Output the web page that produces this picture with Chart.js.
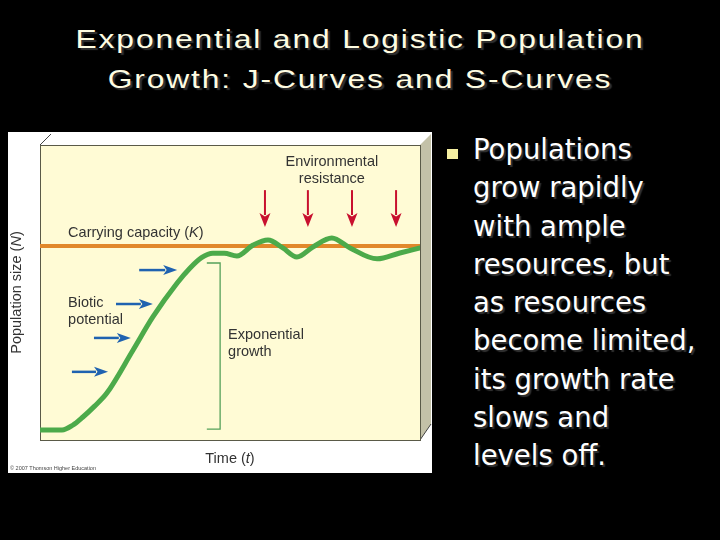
<!DOCTYPE html>
<html>
<head>
<meta charset="utf-8">
<script src="https://cdn.jsdelivr.net/npm/chart.js@4"></script>
<style>
  html, body { margin: 0; padding: 0; background: #000; }
  body { width: 720px; height: 540px; position: relative; overflow: hidden; }
  #title {
    position: absolute; left: 0; top: 19px; width: 720px; text-align: center;
    font-family: "Liberation Sans", Arial, sans-serif; font-size: 26.5px; line-height: 40px;
    letter-spacing: 1.55px; color: #fffde2; text-shadow: 2px 2px 1px #333;
    transform: scaleX(1.2); transform-origin: 360px 0;
  }
  #fig { position: absolute; left: 8px; top: 132px; }
  #bullet { position: absolute; left: 447px; top: 149px; width: 11px; height: 10px; background: #f6f0a2; }
  #body {
    position: absolute; left: 473px; top: 130px;
    font-family: "DejaVu Sans", Verdana, sans-serif; font-size: 27.5px; line-height: 38.3px;
    color: #fff; text-shadow: 2px 2px 1px #333; white-space: nowrap;
  }
</style>
</head>
<body>
<div id="title">Exponential and Logistic Population<br>Growth: J-Curves and S-Curves</div>
<canvas id="fig" width="424" height="341"></canvas>
<div id="bullet"></div>
<div id="body">Populations<br>grow rapidly<br>with ample<br>resources, but<br>as resources<br>become limited,<br>its growth rate<br>slows and<br>levels off.</div>
<script>
// logistic curve (time and population on a 0-100 scale)
const timeValues = [0, 5.8, 8.6, 11.3, 14.3, 17.6, 24.5, 29.7, 36.1, 39.5, 42.5, 45.5, 48.5, 51.8, 56.1, 60.0, 63.9, 67.6, 71.8, 76.8, 81.6, 88.7, 94.7, 100];
const populationValues = [3.4, 3.4, 5.0, 7.8, 11.4, 15.9, 30.5, 41.7, 53.2, 58.3, 61.8, 63.3, 63.3, 62.4, 66.1, 67.8, 65.1, 62.0, 65.4, 68.5, 65.1, 61.4, 63.4, 65.1];
const carryingCapacity = 65.8;

// biotic potential arrows (blue, pointing right)
const bioticArrowStart = [26.1, 20.0, 14.2, 8.4];
const bioticArrowEnd = [36.1, 29.7, 23.9, 17.9];
const bioticArrowY = [57.6, 46.1, 34.6, 23.1];

// environmental resistance arrows (red, pointing down)
const resistArrowX = [59.2, 70.5, 82.1, 93.7];
const resistArrowTop = 84.7;
const resistArrowBottom = 72.2;

// exponential growth bracket
const bracketX = 47.4;
const bracketLeft = 43.9;
const bracketTop = 60.0;
const bracketBottom = 3.7;

const labelFont = '14.5px "Liberation Sans", Arial, sans-serif';
const labelColor = '#333333';

function arrow(ctx, x1, y1, x2, y2, color, width, headLen, headHalf) {
    const ang = Math.atan2(y2 - y1, x2 - x1);
    const bx = x2 - headLen * Math.cos(ang), by = y2 - headLen * Math.sin(ang);
    ctx.strokeStyle = color;
    ctx.fillStyle = color;
    ctx.lineWidth = width;
    ctx.beginPath();
    ctx.moveTo(x1, y1);
    ctx.lineTo(bx + 2 * Math.cos(ang), by + 2 * Math.sin(ang));
    ctx.stroke();
    ctx.beginPath();
    ctx.moveTo(x2, y2);
    ctx.lineTo(bx - headHalf * Math.sin(ang), by + headHalf * Math.cos(ang));
    ctx.lineTo(bx + headLen * 0.25 * Math.cos(ang), by + headLen * 0.25 * Math.sin(ang));
    ctx.lineTo(bx + headHalf * Math.sin(ang), by - headHalf * Math.cos(ang));
    ctx.closePath();
    ctx.fill();
}

// draws text pieces in a row, the ones flagged true in italic
function mixedText(ctx, parts, x, y) {
    let cx = x;
    parts.forEach(([t, it]) => {
        ctx.font = (it ? 'italic ' : '') + labelFont;
        ctx.fillText(t, cx, y);
        cx += ctx.measureText(t).width;
    });
}

const figurePlugin = {
    id: 'figure',
    beforeDraw(chart) {
        const { ctx, chartArea: a } = chart;
        const d = 11;
        ctx.save();
        ctx.fillStyle = '#ffffff';
        ctx.fillRect(0, 0, chart.width, chart.height);
        // right side face of the box
        ctx.fillStyle = '#c3c1a8';
        ctx.strokeStyle = '#444';
        ctx.lineWidth = 1;
        ctx.beginPath();
        ctx.moveTo(a.right, a.top);
        ctx.lineTo(a.right + d, a.top - d);
        ctx.lineTo(a.right + d, a.bottom - 16);
        ctx.lineTo(a.right, a.bottom);
        ctx.closePath();
        ctx.fill();
        ctx.beginPath();
        ctx.moveTo(a.right, a.bottom);
        ctx.lineTo(a.right + d, a.bottom - 16);
        ctx.moveTo(a.left, a.top);
        ctx.lineTo(a.left + d, a.top - d);
        ctx.stroke();
        // front face
        ctx.fillStyle = '#fffbd5';
        ctx.fillRect(a.left, a.top, a.right - a.left, a.bottom - a.top);
        ctx.strokeStyle = '#5a5a48';
        ctx.strokeRect(a.left + 0.5, a.top + 0.5, a.right - a.left, a.bottom - a.top);
        ctx.restore();
    },
    afterDatasetsDraw(chart) {
        const { ctx, scales: { x, y } } = chart;
        ctx.save();
        bioticArrowY.forEach((v, i) => {
            arrow(ctx, x.getPixelForValue(bioticArrowStart[i]), y.getPixelForValue(v),
                x.getPixelForValue(bioticArrowEnd[i]), y.getPixelForValue(v), '#1f62b0', 2.5, 14, 5);
        });
        resistArrowX.forEach(v => {
            arrow(ctx, x.getPixelForValue(v), y.getPixelForValue(resistArrowTop),
                x.getPixelForValue(v), y.getPixelForValue(resistArrowBottom), '#c8102e', 2, 14, 5.5);
        });
        // bracket
        ctx.strokeStyle = '#56a15a';
        ctx.lineWidth = 1.3;
        ctx.beginPath();
        ctx.moveTo(x.getPixelForValue(bracketLeft), y.getPixelForValue(bracketTop));
        ctx.lineTo(x.getPixelForValue(bracketX), y.getPixelForValue(bracketTop));
        ctx.lineTo(x.getPixelForValue(bracketX), y.getPixelForValue(bracketBottom));
        ctx.lineTo(x.getPixelForValue(bracketLeft), y.getPixelForValue(bracketBottom));
        ctx.stroke();
        ctx.restore();
    },
    afterDraw(chart) {
        const { ctx, chartArea: a, scales: { x, y } } = chart;
        ctx.save();
        ctx.fillStyle = labelColor;
        ctx.font = labelFont;
        ctx.textBaseline = 'middle';
        ctx.textAlign = 'center';
        ctx.fillText('Environmental', x.getPixelForValue(76.8), y.getPixelForValue(94.2));
        ctx.fillText('resistance', x.getPixelForValue(76.8), y.getPixelForValue(88.5));
        ctx.textAlign = 'left';
        mixedText(ctx, [['Carrying capacity (', false], ['K', true], [')', false]], x.getPixelForValue(7.4), y.getPixelForValue(70.2));
        ctx.font = labelFont;
        ctx.fillText('Biotic', x.getPixelForValue(7.4), y.getPixelForValue(46.4));
        ctx.fillText('potential', x.getPixelForValue(7.4), y.getPixelForValue(40.7));
        ctx.fillText('Exponential', x.getPixelForValue(49.5), y.getPixelForValue(35.6));
        ctx.fillText('growth', x.getPixelForValue(49.5), y.getPixelForValue(29.8));
        // axis titles
        ctx.font = labelFont;
        const tw = ctx.measureText('Time (').width + ctx.measureText(')').width;
        ctx.font = 'italic ' + labelFont;
        const tt = ctx.measureText('t').width;
        mixedText(ctx, [['Time (', false], ['t', true], [')', false]], (a.left + a.right) / 2 - (tw + tt) / 2, a.bottom + 19);
        ctx.save();
        ctx.translate(a.left - 23, (a.top + a.bottom) / 2);
        ctx.rotate(-Math.PI / 2);
        ctx.font = labelFont;
        const pw = ctx.measureText('Population size (').width + ctx.measureText(')').width;
        ctx.font = 'italic ' + labelFont;
        const pn = ctx.measureText('N').width;
        mixedText(ctx, [['Population size (', false], ['N', true], [')', false]], -(pw + pn) / 2, 0);
        ctx.restore();
        ctx.font = '5.5px "Liberation Sans", Arial, sans-serif';
        ctx.fillStyle = '#444';
        ctx.fillText('\u00a9 2007 Thomson Higher Education', 2, chart.height - 5);
        ctx.restore();
    }
};

new Chart(document.getElementById('fig'), {
    type: 'line',
    data: {
        datasets: [{
            label: 'Population',
            data: timeValues.map((t, i) => ({ x: t, y: populationValues[i] })),
            borderColor: '#4caa4a',
            borderWidth: 5,
            pointRadius: 0,
            cubicInterpolationMode: 'monotone',
            borderCapStyle: 'round'
        }, {
            label: 'Carrying capacity',
            data: [{ x: 0, y: carryingCapacity }, { x: 100, y: carryingCapacity }],
            borderColor: '#e1882b',
            borderWidth: 4,
            pointRadius: 0
        }]
    },
    options: {
        responsive: false,
        animation: false,
        layout: { padding: { left: 32, top: 13, right: 12, bottom: 33 } },
        plugins: { legend: { display: false }, tooltip: { enabled: false } },
        scales: {
            x: { type: 'linear', min: 0, max: 100, display: false },
            y: { min: 0, max: 100, display: false }
        }
    },
    plugins: [figurePlugin]
});
</script>
</body>
</html>
